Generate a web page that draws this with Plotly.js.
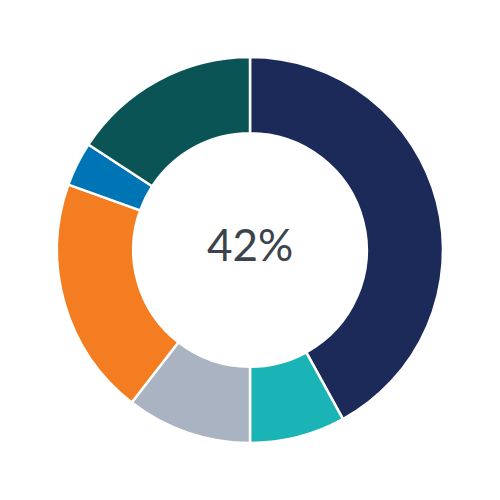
<!DOCTYPE html>
<html>
<head>
<meta charset="utf-8">
<script src="https://cdn.plot.ly/plotly-3.0.1.min.js"></script>
<style>
  html, body { margin: 0; padding: 0; background: #fff; }
  #chart { width: 500px; height: 500px; }
</style>
</head>
<body>
<div id="chart"></div>
<script>
// slices, clockwise from 12 o'clock
const categories = ['Segment 1', 'Segment 2', 'Segment 3', 'Segment 4', 'Segment 5', 'Segment 6'];
const shares = [42, 8, 10.5, 20, 3.7, 15.8];
const sliceColors = ['#1c2a5a', '#1bb4b6', '#a9b3c1', '#f37d20', '#0075b6', '#0a5456'];
const centerLabel = '42%';

const trace = {
  type: 'pie',
  labels: categories,
  values: shares,
  hole: 0.605,
  sort: false,
  direction: 'clockwise',
  rotation: 0,
  textinfo: 'none',
  hoverinfo: 'none',
  marker: { colors: sliceColors, line: { color: '#ffffff', width: 2.5 } },
};

const layout = {
  width: 500,
  height: 500,
  margin: { l: 57, r: 57, t: 57, b: 57 },
  showlegend: false,
  paper_bgcolor: '#ffffff',
  annotations: [{
    text: centerLabel,
    x: 0.5, y: 0.5, xref: 'paper', yref: 'paper',
    yshift: 6,
    showarrow: false,
    font: { family: 'Lato, "Open Sans", sans-serif', size: 44, color: '#3d434b' },
  }],
};

Plotly.newPlot('chart', [trace], layout, { displayModeBar: false, staticPlot: true });
</script>
</body>
</html>
